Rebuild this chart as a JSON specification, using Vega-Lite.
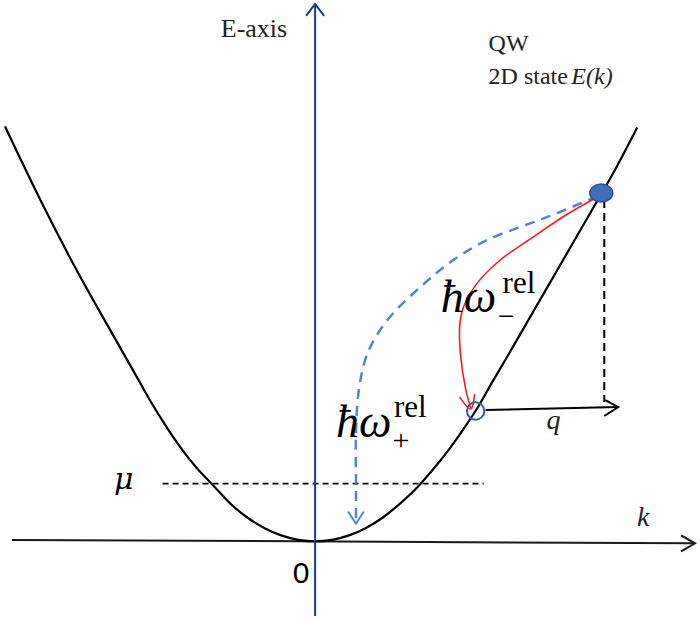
{
  "$schema": "https://vega.github.io/schema/vega-lite/v6.json",
  "width": 700,
  "height": 620,
  "autosize": {"type": "fit", "contains": "padding"},
  "padding": 0,
  "background": "white",
  "datasets": {
    "paths": [
      {"path": "curve", "part": "c", "i": 0, "k": -311, "E": 417},
      {"path": "curve", "part": "c", "i": 1, "k": -274, "E": 340},
      {"path": "curve", "part": "c", "i": 2, "k": -241, "E": 276},
      {"path": "curve", "part": "c", "i": 3, "k": -207, "E": 215},
      {"path": "curve", "part": "c", "i": 4, "k": -177, "E": 162},
      {"path": "curve", "part": "c", "i": 5, "k": -164, "E": 139},
      {"path": "curve", "part": "c", "i": 6, "k": -151, "E": 118},
      {"path": "curve", "part": "c", "i": 7, "k": -134, "E": 93},
      {"path": "curve", "part": "c", "i": 8, "k": -118, "E": 73},
      {"path": "curve", "part": "c", "i": 9, "k": -101, "E": 55},
      {"path": "curve", "part": "c", "i": 10, "k": -84, "E": 37},
      {"path": "curve", "part": "c", "i": 11, "k": -68, "E": 24},
      {"path": "curve", "part": "c", "i": 12, "k": -51, "E": 13.5},
      {"path": "curve", "part": "c", "i": 13, "k": -34, "E": 6},
      {"path": "curve", "part": "c", "i": 14, "k": -17, "E": 1.5},
      {"path": "curve", "part": "c", "i": 15, "k": 0, "E": 0},
      {"path": "curve", "part": "c", "i": 16, "k": 17, "E": 1.5},
      {"path": "curve", "part": "c", "i": 17, "k": 34, "E": 6},
      {"path": "curve", "part": "c", "i": 18, "k": 51, "E": 13.5},
      {"path": "curve", "part": "c", "i": 19, "k": 68, "E": 24},
      {"path": "curve", "part": "c", "i": 20, "k": 84, "E": 37},
      {"path": "curve", "part": "c", "i": 21, "k": 104, "E": 56},
      {"path": "curve", "part": "c", "i": 22, "k": 118, "E": 72},
      {"path": "curve", "part": "c", "i": 23, "k": 134, "E": 92},
      {"path": "curve", "part": "c", "i": 24, "k": 151, "E": 116},
      {"path": "curve", "part": "c", "i": 25, "k": 164, "E": 136},
      {"path": "curve", "part": "c", "i": 26, "k": 177, "E": 159},
      {"path": "curve", "part": "c", "i": 27, "k": 190, "E": 181},
      {"path": "curve", "part": "c", "i": 28, "k": 220, "E": 233},
      {"path": "curve", "part": "c", "i": 29, "k": 250, "E": 285},
      {"path": "curve", "part": "c", "i": 30, "k": 280, "E": 337},
      {"path": "curve", "part": "c", "i": 31, "k": 300, "E": 372},
      {"path": "curve", "part": "c", "i": 32, "k": 323, "E": 416},

      {"path": "vaxis", "part": "v", "i": 0, "k": 0, "E": -75},
      {"path": "vaxis", "part": "v", "i": 1, "k": 0, "E": 540},
      {"path": "vaxis", "part": "vh", "i": 0, "k": -9, "E": 528},
      {"path": "vaxis", "part": "vh", "i": 1, "k": 0, "E": 540},
      {"path": "vaxis", "part": "vh", "i": 2, "k": 9, "E": 528},

      {"path": "haxis", "part": "h", "i": 0, "k": -304, "E": 1.5},
      {"path": "haxis", "part": "h", "i": 1, "k": 381, "E": -2},
      {"path": "haxis", "part": "hh", "i": 0, "k": 367, "E": 6},
      {"path": "haxis", "part": "hh", "i": 1, "k": 381, "E": -2},
      {"path": "haxis", "part": "hh", "i": 2, "k": 367, "E": -10},

      {"path": "mu", "part": "m", "i": 0, "k": -153, "E": 58},
      {"path": "mu", "part": "m", "i": 1, "k": 169, "E": 58},

      {"path": "drop", "part": "d", "i": 0, "k": 290, "E": 343},
      {"path": "drop", "part": "d", "i": 1, "k": 290, "E": 140},

      {"path": "q", "part": "q", "i": 0, "k": 171, "E": 132},
      {"path": "q", "part": "q", "i": 1, "k": 304, "E": 135},
      {"path": "q", "part": "qh", "i": 0, "k": 291, "E": 142},
      {"path": "q", "part": "qh", "i": 1, "k": 304, "E": 135},
      {"path": "q", "part": "qh", "i": 2, "k": 290, "E": 126},

      {"path": "blue", "part": "b", "i": 0, "k": 283, "E": 347},
      {"path": "blue", "part": "b", "i": 1, "k": 260, "E": 337},
      {"path": "blue", "part": "b", "i": 2, "k": 233, "E": 326},
      {"path": "blue", "part": "b", "i": 3, "k": 206, "E": 316},
      {"path": "blue", "part": "b", "i": 4, "k": 173, "E": 303},
      {"path": "blue", "part": "b", "i": 5, "k": 139, "E": 283},
      {"path": "blue", "part": "b", "i": 6, "k": 106, "E": 256},
      {"path": "blue", "part": "b", "i": 7, "k": 73, "E": 223},
      {"path": "blue", "part": "b", "i": 8, "k": 53, "E": 190},
      {"path": "blue", "part": "b", "i": 9, "k": 44, "E": 153},
      {"path": "blue", "part": "b", "i": 10, "k": 41, "E": 110},
      {"path": "blue", "part": "b", "i": 11, "k": 41, "E": 60},
      {"path": "blue", "part": "b", "i": 12, "k": 41, "E": 20},
      {"path": "bluehead", "part": "bh", "i": 0, "k": 33, "E": 30},
      {"path": "bluehead", "part": "bh", "i": 1, "k": 41, "E": 18},
      {"path": "bluehead", "part": "bh", "i": 2, "k": 49, "E": 30},

      {"path": "red", "part": "r", "i": 0, "k": 285, "E": 347},
      {"path": "red", "part": "r", "i": 1, "k": 250, "E": 327},
      {"path": "red", "part": "r", "i": 2, "k": 219, "E": 306},
      {"path": "red", "part": "r", "i": 3, "k": 186, "E": 283},
      {"path": "red", "part": "r", "i": 4, "k": 163, "E": 260},
      {"path": "red", "part": "r", "i": 5, "k": 149, "E": 236},
      {"path": "red", "part": "r", "i": 6, "k": 145, "E": 216},
      {"path": "red", "part": "r", "i": 7, "k": 146, "E": 186},
      {"path": "red", "part": "r", "i": 8, "k": 151, "E": 153},
      {"path": "red", "part": "r", "i": 9, "k": 156, "E": 134},
      {"path": "red", "part": "rh", "i": 0, "k": 145, "E": 145},
      {"path": "red", "part": "rh", "i": 1, "k": 156, "E": 133},
      {"path": "red", "part": "rh", "i": 2, "k": 160, "E": 148}
    ],
    "states": [
      {"state": "initial", "k": 287, "E": 350},
      {"state": "final", "k": 161, "E": 131}
    ],
    "labels": [
      {"role": "title", "text": "QW", "k": 174, "E": 500},
      {"role": "title", "text": "2D state", "k": 174, "E": 467},
      {"role": "titleItalic", "text": "E(k)", "k": 257, "E": 467},
      {"role": "eaxis", "text": "E-axis", "k": -28, "E": 515},
      {"role": "mu", "text": "μ", "k": -192, "E": 53},
      {"role": "zero", "text": "0", "k": -14, "E": -42},
      {"role": "var", "text": "q", "k": 239, "E": 113},
      {"role": "var", "text": "k", "k": 329, "E": 15},
      {"role": "hbar", "text": "ħω", "k": 126, "E": 230},
      {"role": "hbar", "text": "ħω", "k": 21, "E": 105},
      {"role": "sup", "text": "rel", "k": 188, "E": 250},
      {"role": "sup", "text": "rel", "k": 79, "E": 125},
      {"role": "sub", "text": "−", "k": 192, "E": 225},
      {"role": "sub", "text": "+", "k": 86, "E": 101}
    ]
  },
  "encoding": {
    "x": {"field": "k", "type": "quantitative", "scale": {"domain": [-314, 386], "nice": false, "zero": false}, "axis": null},
    "y": {"field": "E", "type": "quantitative", "scale": {"domain": [-77, 543], "nice": false, "zero": false}, "axis": null}
  },
  "layer": [
    {
      "data": {"name": "paths"},
      "transform": [{"filter": "datum.path == 'mu'"}],
      "mark": {"type": "line", "color": "black", "strokeWidth": 1.6, "strokeDash": [6, 4]},
      "encoding": {"detail": {"field": "part"}, "order": {"field": "i"}}
    },
    {
      "data": {"name": "paths"},
      "transform": [{"filter": "datum.path == 'haxis'"}],
      "mark": {"type": "line", "color": "#1a1a1a", "strokeWidth": 2},
      "encoding": {"detail": {"field": "part"}, "order": {"field": "i"}}
    },
    {
      "data": {"name": "paths"},
      "transform": [{"filter": "datum.path == 'curve'"}],
      "mark": {"type": "line", "color": "black", "strokeWidth": 2.2, "interpolate": "monotone"},
      "encoding": {"detail": {"field": "part"}, "order": {"field": "i"}}
    },
    {
      "data": {"name": "paths"},
      "transform": [{"filter": "datum.path == 'vaxis'"}],
      "mark": {"type": "line", "color": "#1f3a8a", "strokeWidth": 2},
      "encoding": {"detail": {"field": "part"}, "order": {"field": "i"}}
    },
    {
      "data": {"name": "paths"},
      "transform": [{"filter": "datum.path == 'drop'"}],
      "mark": {"type": "line", "color": "black", "strokeWidth": 2, "strokeDash": [8, 5]},
      "encoding": {"detail": {"field": "part"}, "order": {"field": "i"}}
    },
    {
      "data": {"name": "paths"},
      "transform": [{"filter": "datum.path == 'q'"}],
      "mark": {"type": "line", "color": "black", "strokeWidth": 2},
      "encoding": {"detail": {"field": "part"}, "order": {"field": "i"}}
    },
    {
      "data": {"name": "paths"},
      "transform": [{"filter": "datum.path == 'blue'"}],
      "mark": {"type": "line", "color": "#5585c5", "strokeWidth": 2.5, "strokeDash": [10, 7], "interpolate": "catmull-rom"},
      "encoding": {"detail": {"field": "part"}, "order": {"field": "i"}}
    },
    {
      "data": {"name": "paths"},
      "transform": [{"filter": "datum.path == 'bluehead'"}],
      "mark": {"type": "line", "color": "#5585c5", "strokeWidth": 2},
      "encoding": {"detail": {"field": "part"}, "order": {"field": "i"}}
    },
    {
      "data": {"name": "paths"},
      "transform": [{"filter": "datum.path == 'red'"}],
      "mark": {"type": "line", "color": "#f01e1e", "strokeWidth": 1.6, "interpolate": "catmull-rom"},
      "encoding": {"detail": {"field": "part"}, "order": {"field": "i"}}
    },
    {
      "data": {"name": "states"},
      "transform": [{"filter": "datum.state == 'final'"}],
      "mark": {"type": "point", "shape": "circle", "size": 300, "filled": false, "stroke": "#2f5ea8", "strokeWidth": 2, "opacity": 1}
    },
    {
      "data": {"name": "states"},
      "transform": [{"filter": "datum.state == 'initial'"}],
      "mark": {"type": "point", "shape": "M -1 0 A 1 0.78 0 1 0 1 0 A 1 0.78 0 1 0 -1 0 Z", "size": 529, "filled": true, "fill": "#3f6fbd", "stroke": "#2a5090", "strokeWidth": 1.5, "opacity": 1}
    },
    {
      "data": {"name": "labels"},
      "transform": [{"filter": "datum.role == 'title'"}],
      "mark": {"type": "text", "font": "Liberation Serif", "fontSize": 24, "align": "left", "baseline": "middle", "color": "#222"},
      "encoding": {"text": {"field": "text"}}
    },
    {
      "data": {"name": "labels"},
      "transform": [{"filter": "datum.role == 'titleItalic'"}],
      "mark": {"type": "text", "font": "Liberation Serif", "fontStyle": "italic", "fontSize": 24, "align": "left", "baseline": "middle", "color": "#222"},
      "encoding": {"text": {"field": "text"}}
    },
    {
      "data": {"name": "labels"},
      "transform": [{"filter": "datum.role == 'eaxis'"}],
      "mark": {"type": "text", "font": "Liberation Serif", "fontSize": 26, "align": "right", "baseline": "middle", "color": "#222"},
      "encoding": {"text": {"field": "text"}}
    },
    {
      "data": {"name": "labels"},
      "transform": [{"filter": "datum.role == 'mu'"}],
      "mark": {"type": "text", "font": "DejaVu Serif", "fontStyle": "italic", "fontSize": 30, "align": "center", "baseline": "alphabetic", "color": "black"},
      "encoding": {"text": {"field": "text"}}
    },
    {
      "data": {"name": "labels"},
      "transform": [{"filter": "datum.role == 'zero'"}],
      "mark": {"type": "text", "font": "Liberation Sans", "fontSize": 30, "align": "center", "baseline": "alphabetic", "color": "black"},
      "encoding": {"text": {"field": "text"}}
    },
    {
      "data": {"name": "labels"},
      "transform": [{"filter": "datum.role == 'var'"}],
      "mark": {"type": "text", "font": "Liberation Serif", "fontStyle": "italic", "fontSize": 28, "align": "center", "baseline": "alphabetic", "color": "#222"},
      "encoding": {"text": {"field": "text"}}
    },
    {
      "data": {"name": "labels"},
      "transform": [{"filter": "datum.role == 'hbar'"}],
      "mark": {"type": "text", "font": "Liberation Serif", "fontStyle": "italic", "fontSize": 46, "align": "left", "baseline": "alphabetic", "color": "black"},
      "encoding": {"text": {"field": "text"}}
    },
    {
      "data": {"name": "labels"},
      "transform": [{"filter": "datum.role == 'sup'"}],
      "mark": {"type": "text", "font": "Liberation Serif", "fontSize": 31, "align": "left", "baseline": "alphabetic", "color": "black"},
      "encoding": {"text": {"field": "text"}}
    },
    {
      "data": {"name": "labels"},
      "transform": [{"filter": "datum.role == 'sub'"}],
      "mark": {"type": "text", "font": "Liberation Serif", "fontSize": 30, "align": "center", "baseline": "middle", "color": "black"},
      "encoding": {"text": {"field": "text"}}
    }
  ],
  "config": {"view": {"stroke": null}}
}
